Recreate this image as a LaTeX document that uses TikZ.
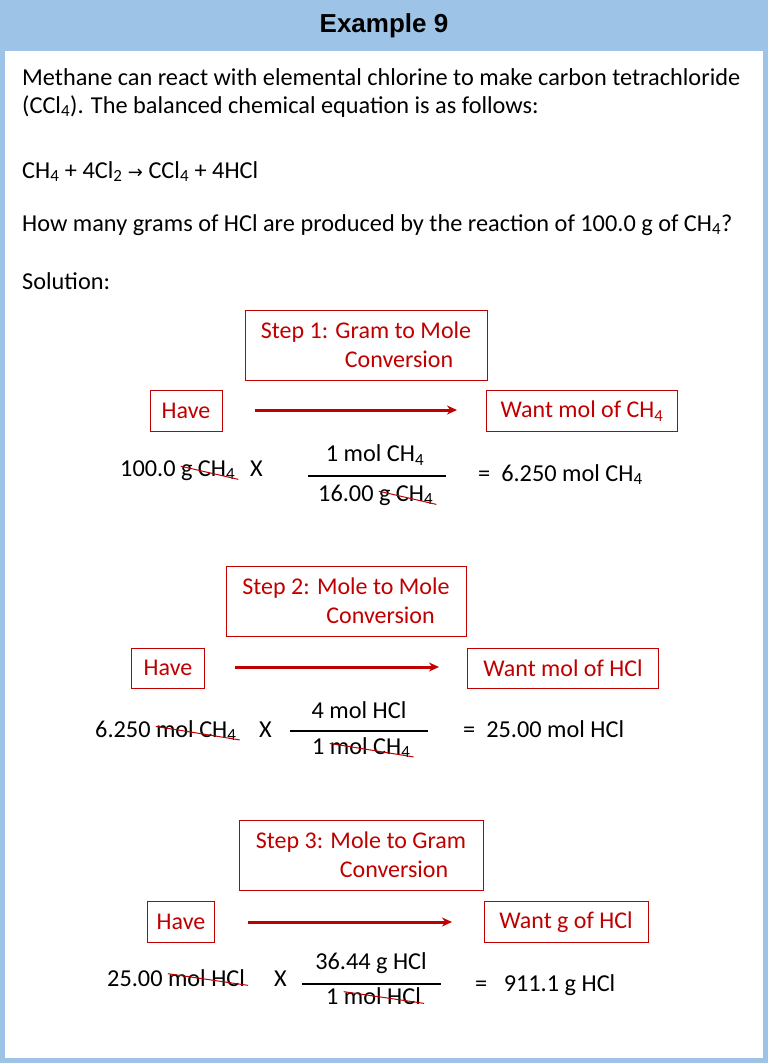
\documentclass[tikz,border=0pt]{standalone}
\usepackage{fontspec}
\setmainfont{Carlito}
\newfontfamily\titlefont{Liberation Sans}
\newfontfamily\symfont{DejaVu Sans}
\usetikzlibrary{positioning,arrows.meta}
\definecolor{darkred}{HTML}{C00000}
\definecolor{frameblue}{HTML}{9DC3E6}
\tikzset{
  txt/.style={inner sep=0pt,font=\fontsize{24.3}{28}\selectfont},
  redbox/.style={draw=darkred,text=darkred,line width=1pt,inner sep=0pt,font=\fontsize{24}{29}\selectfont},
  strike/.style={draw=darkred,line width=1pt},
  goarrow/.style={draw=darkred,line width=3pt,-{Stealth[length=10pt,width=9pt]}},
  fracline/.style={draw=black,line width=1.2pt}
}
\begin{document}
\begin{tikzpicture}[x=1pt,y=-1pt]
  \useasboundingbox (0,0) rectangle (768,1063);
  %%%%%%%%% Frame %%%%%%%%%
  \fill[frameblue] (0,0) rectangle (768,1063);
  \fill[white] (5,51) rectangle (763,1058);
  \node[font=\titlefont\bfseries\fontsize{26}{30}\selectfont] (title) at (384,26) {Example 9};

  %%%%%%%%% Question %%%%%%%%%
  \node[txt,anchor=base west] (q1) at (22,85) {Methane can react with elemental chlorine to make carbon tetrachloride};
  \node[txt,anchor=base west] (q2) at (22,113) {(CCl\textsubscript{4}). The balanced chemical equation is as follows:};
  \node[txt,anchor=base west] (eq) at (22,178) {CH\textsubscript{4} + 4Cl\textsubscript{2} {\symfont\fontsize{18}{20}\selectfont →} CCl\textsubscript{4} + 4HCl};
  \node[txt,anchor=base west] (q3) at (22,231) {How many grams of HCl are produced by the reaction of 100.0 g of CH\textsubscript{4}?};
  \node[txt,anchor=base west] (sol) at (22,289) {Solution:};

  %%%%%%%%% Step 1 %%%%%%%%%
  \node[redbox,minimum width=242,minimum height=70,align=left] (step1) at (366,345) {Step 1: Gram to Mole\\\hspace*{84pt}Conversion};
  \node[redbox,minimum width=72,minimum height=41] (have1) at (186,411) {Have};
  \node[redbox,minimum width=191,minimum height=41] (want1) at (582,411) {Want mol of CH\textsubscript{4}};
  \coordinate (a1s) at (255,410); \coordinate (a1e) at (457,410);
  \draw[goarrow] (a1s) -- (a1e);
  \node[txt,anchor=base west] (r1a) at (120,476) {100.0};
  \node[txt,anchor=base west] (r1b) at ([xshift=5pt]r1a.base east) {g CH\textsubscript{4}};
  \draw[strike] ([yshift=4pt]r1b.west) -- ([xshift=3pt,yshift=1pt]r1b.south east);
  \node[txt,anchor=base west] (x1) at (250,476) {X};
  \node[txt] (n1) at (375,455) {1 mol CH\textsubscript{4}};
  \node[txt,anchor=base west] (d1a) at (318,501) {16.00};
  \node[txt,anchor=base west] (d1b) at ([xshift=5pt]d1a.base east) {g CH\textsubscript{4}};
  \draw[strike] ([yshift=4pt]d1b.west) -- ([xshift=3pt,yshift=1pt]d1b.south east);
  \coordinate (f1l) at (308,476); \coordinate (f1r) at (446,476);
  \draw[fracline] (f1l) -- (f1r);
  \node[txt,anchor=base west] (res1) at (478,481) {=\ \ 6.250 mol CH\textsubscript{4}};

  %%%%%%%%% Step 2 %%%%%%%%%
  \node[redbox,minimum width=240,minimum height=70,align=left] (step2) at (346,601) {Step 2: Mole to Mole\\\hspace*{84pt}Conversion};
  \node[redbox,minimum width=73,minimum height=40] (have2) at (168,668) {Have};
  \node[redbox,minimum width=191,minimum height=40] (want2) at (563,668) {Want mol of HCl};
  \coordinate (a2s) at (235,667); \coordinate (a2e) at (439,667);
  \draw[goarrow] (a2s) -- (a2e);
  \node[txt,anchor=base west] (r2a) at (95,737) {6.250};
  \node[txt,anchor=base west] (r2b) at ([xshift=5pt]r2a.base east) {mol CH\textsubscript{4}};
  \draw[strike] ([yshift=4pt]r2b.west) -- ([xshift=3pt,yshift=1pt]r2b.south east);
  \node[txt,anchor=base west] (x2) at (259,737) {X};
  \node[txt] (n2) at (359,710) {4 mol HCl};
  \node[txt,anchor=base west] (d2a) at (312,754) {1};
  \node[txt,anchor=base west] (d2b) at ([xshift=5pt]d2a.base east) {mol CH\textsubscript{4}};
  \draw[strike] ([yshift=4pt]d2b.west) -- ([xshift=3pt,yshift=1pt]d2b.south east);
  \coordinate (f2l) at (290,731); \coordinate (f2r) at (428,731);
  \draw[fracline] (f2l) -- (f2r);
  \node[txt,anchor=base west] (res2) at (463,737) {=\ \ 25.00 mol HCl};

  %%%%%%%%% Step 3 %%%%%%%%%
  \node[redbox,minimum width=244,minimum height=70,align=left] (step3) at (361,855) {Step 3: Mole to Gram\\\hspace*{84pt}Conversion};
  \node[redbox,minimum width=67,minimum height=41] (have3) at (181,922) {Have};
  \node[redbox,minimum width=164,minimum height=41] (want3) at (566,922) {Want g of HCl};
  \coordinate (a3s) at (248,922); \coordinate (a3e) at (452,922);
  \draw[goarrow] (a3s) -- (a3e);
  \node[txt,anchor=base west] (r3a) at (107,986) {25.00};
  \node[txt,anchor=base west] (r3b) at ([xshift=5pt]r3a.base east) {mol HCl};
  \draw[strike] ([yshift=4pt]r3b.west) -- ([xshift=3pt,yshift=1pt]r3b.south east);
  \node[txt,anchor=base west] (x3) at (274,986) {X};
  \node[txt] (n3) at (371,963) {36.44 g HCl};
  \node[txt,anchor=base west] (d3a) at (326,1004) {1};
  \node[txt,anchor=base west] (d3b) at ([xshift=5pt]d3a.base east) {mol HCl};
  \draw[strike] ([yshift=4pt]d3b.west) -- ([xshift=3pt,yshift=1pt]d3b.south east);
  \coordinate (f3l) at (302,984); \coordinate (f3r) at (441,984);
  \draw[fracline] (f3l) -- (f3r);
  \node[txt,anchor=base west] (res3) at (475,991) {=\ \ \ 911.1 g HCl};
\end{tikzpicture}
\end{document}
